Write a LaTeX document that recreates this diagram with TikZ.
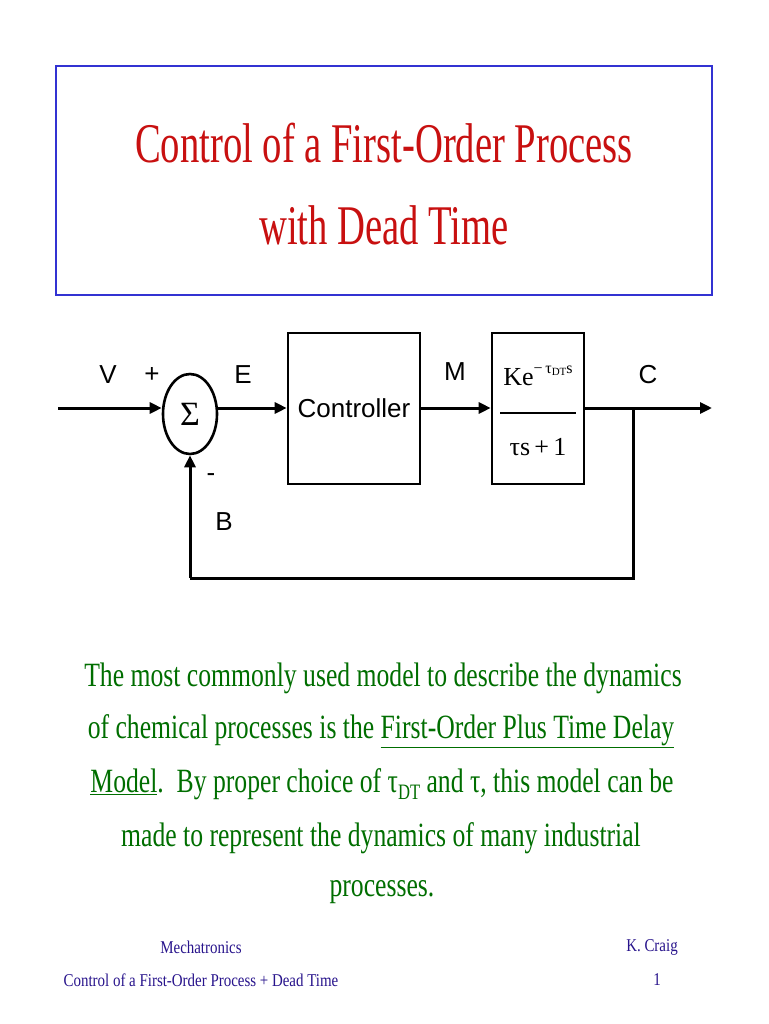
\documentclass[tikz,border=0pt]{standalone}
\usepackage{fontspec}
\setmainfont{Liberation Serif}
\newfontfamily\cond[FakeStretch=0.69]{Liberation Serif}
\newfontfamily\condb[FakeStretch=0.755]{Liberation Serif}
\newfontfamily\condf[FakeStretch=0.83]{Liberation Serif}
\setsansfont{Liberation Sans}
\usetikzlibrary{arrows.meta,shapes.geometric}
\definecolor{tred}{RGB}{200,16,16}
\definecolor{tblue}{RGB}{50,50,210}
\definecolor{tgreen}{RGB}{0,110,0}
\definecolor{fblue}{RGB}{40,20,140}
\begin{document}
\begin{tikzpicture}[x=1pt,y=-1pt,
  blk/.style={draw,line width=2.6pt,inner sep=0pt},
  sig/.style={line width=3pt,-{Triangle[length=12pt,width=11pt]}},
  lbl/.style={font=\sffamily\fontsize{26}{26}\selectfont},
  body/.style={text=tgreen,font=\condb\fontsize{34}{34}\selectfont},
  foot/.style={text=fblue,font=\condf\fontsize{18}{18}\selectfont}]
\useasboundingbox (0,0) rectangle (768,1024);
\fill[white] (0,0) rectangle (768,1024);
\node[draw=tblue,line width=2.5pt,minimum width=656pt,minimum height=229pt] (title) at (384,180.5) {};
\node[text=tred,font=\cond\fontsize{56}{56}\selectfont] (t1) at (384,143) {Control of a First-Order Process};
\node[text=tred,font=\cond\fontsize{56}{56}\selectfont] (t2) at (384,225) {with Dead Time};
% block diagram
\coordinate (in) at (58,408);
\node[draw,ellipse,line width=2.6pt,minimum width=54pt,minimum height=80pt,inner sep=0pt] (sum) at (190,414) {\fontsize{34}{34}\selectfont Σ};
\node[blk,minimum width=132pt,minimum height=151pt] (ctrl) at (354,408.5) {};
\node[lbl,anchor=center] (ctext) at (354,408) {Controller};
\node[blk,minimum width=92pt,minimum height=151pt] (plant) at (538,408.5) {};
\node[font=\fontsize{26}{26}\selectfont] (num) at (538,376) {Ke\raisebox{1.05ex}{\fontsize{16}{16}\selectfont −\,τ\raisebox{-0.3ex}{\fontsize{11}{11}\selectfont DT}s}};
\node[font=\fontsize{26}{26}\selectfont] (den) at (538,447) {τs\,+\,1};
\draw[line width=1.8pt] (500,413) -- (576,413);
\coordinate (out) at (712,408);
\coordinate (tap) at (633,408);
\coordinate (fb1) at (633,578);
\coordinate (fb2) at (190,578);
\draw[sig] (in) -- (sum.west |- in);
\draw[sig] (sum.east |- in) -- (ctrl.west |- in);
\draw[sig] (ctrl.east |- in) -- (plant.west |- in);
\draw[sig] (plant.east |- in) -- (out);
\draw[line width=3pt] (tap) -- (fb1) -- (fb2);
\draw[sig] (fb2) -- (sum.south);
\node[lbl] (V) at (108,375) {V};
\node[lbl] (plus) at (152,375) {+};
\node[lbl] (E) at (243,375) {E};
\node[lbl] (M) at (455,372) {M};
\node[lbl] (C) at (648,375) {C};
\node[lbl] (minus) at (211,478) {-};
\node[lbl] (B) at (224,522) {B};
% body
\node[body] (l1) at (383,678) {The most commonly used model to describe the dynamics};
\node[body] (l2) at (381,731) {of chemical processes is the \underline{First-Order Plus Time Delay}};
\node[body] (l3) at (382,784) {\underline{Model}.\ \ By proper choice of τ\raisebox{-0.5ex}{\fontsize{22}{22}\selectfont DT} and τ, this model can be};
\node[body] (l4) at (381,838) {made to represent the dynamics of many industrial};
\node[body] (l5) at (382,892) {processes.};
\node[foot] (f1) at (201,947) {Mechatronics};
\node[foot] (f2) at (201,980) {Control of a First-Order Process + Dead Time};
\node[foot] (f3) at (652,947) {K. Craig};
\node[foot] (f4) at (657,980) {1};
\end{tikzpicture}
\end{document}
